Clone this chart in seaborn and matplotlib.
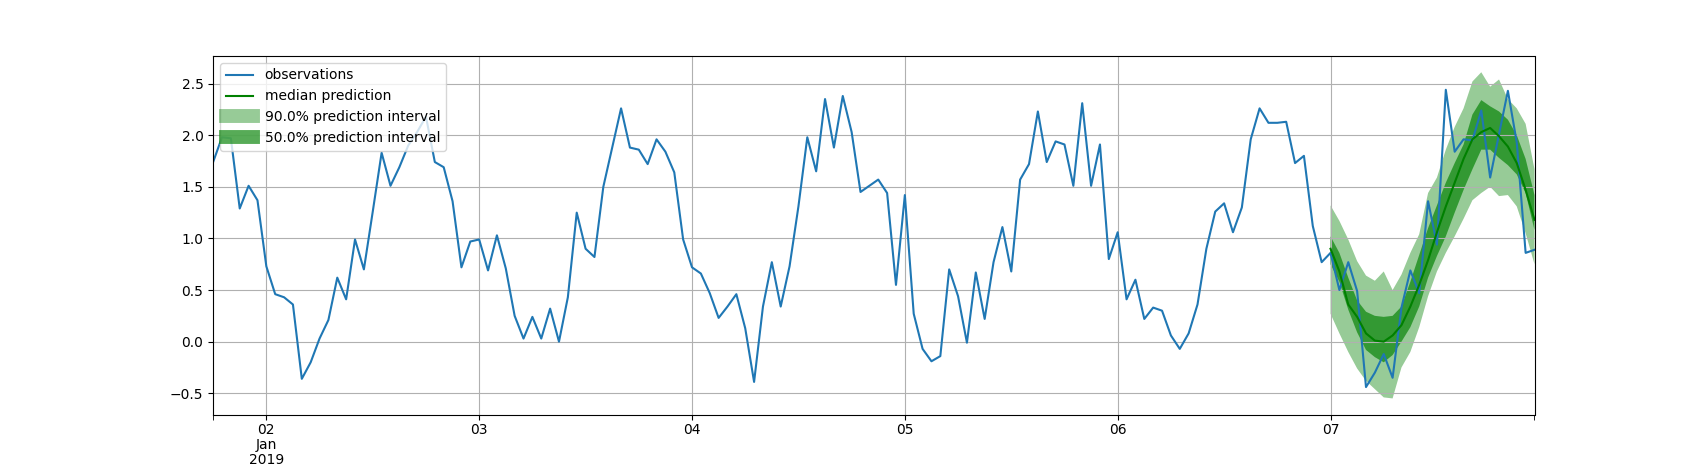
import pandas as pd
import seaborn as sns
import matplotlib
matplotlib.use("Agg")
import matplotlib.pyplot as plt
from matplotlib.lines import Line2D

# hourly observations, 2019-01-01 18:00 -> 2019-01-07 23:00
observations = [
    1.74, 1.98, 1.97, 1.29, 1.51, 1.37, 0.73, 0.46, 0.43, 0.36,
    -0.36, -0.20, 0.03, 0.21, 0.62, 0.41, 0.99, 0.70, 1.26, 1.83,
    1.51, 1.69, 1.90, 2.03, 2.18, 1.74, 1.69, 1.36, 0.72, 0.97,
    0.99, 0.69, 1.03, 0.71, 0.25, 0.03, 0.24, 0.03, 0.32, 0.00,
    0.43, 1.25, 0.90, 0.82, 1.50, 1.88, 2.26, 1.88, 1.86, 1.72,
    1.96, 1.84, 1.64, 0.99, 0.72, 0.66, 0.47, 0.23, 0.34, 0.46,
    0.13, -0.39, 0.34, 0.77, 0.34, 0.73, 1.31, 1.98, 1.65, 2.35,
    1.88, 2.38, 2.03, 1.45, 1.51, 1.57, 1.44, 0.55, 1.42, 0.27,
    -0.07, -0.19, -0.14, 0.70, 0.44, -0.01, 0.67, 0.22, 0.77, 1.11,
    0.68, 1.57, 1.72, 2.23, 1.74, 1.94, 1.91, 1.51, 2.31, 1.51,
    1.91, 0.80, 1.06, 0.41, 0.60, 0.22, 0.33, 0.30, 0.06, -0.07,
    0.08, 0.36, 0.90, 1.26, 1.34, 1.06, 1.30, 1.96, 2.26, 2.12,
    2.12, 2.13, 1.73, 1.80, 1.12, 0.77, 0.86, 0.50, 0.77, 0.49,
    -0.44, -0.30, -0.12, -0.35, 0.33, 0.69, 0.47, 1.36, 0.94, 2.44,
    1.84, 1.96, 1.95, 2.24, 1.59, 2.01, 2.43, 1.93, 0.86, 0.89,
]

# forecast quantiles for 2019-01-07 00:00 -> 23:00
median = [0.90, 0.68, 0.36, 0.24, 0.08, 0.01, 0.00, 0.06, 0.16, 0.34, 0.55, 0.79,
          1.06, 1.31, 1.54, 1.77, 1.96, 2.03, 2.07, 1.99, 1.89, 1.73, 1.47, 1.18]
p95 = [1.32, 1.17, 0.99, 0.78, 0.64, 0.59, 0.68, 0.50, 0.65, 0.86, 1.04, 1.44,
       1.59, 1.86, 2.08, 2.26, 2.52, 2.61, 2.47, 2.54, 2.35, 2.26, 2.11, 1.67]
p5 = [0.27, 0.08, -0.10, -0.26, -0.38, -0.46, -0.54, -0.55, -0.25, -0.10, 0.14, 0.44,
      0.68, 0.86, 1.02, 1.19, 1.37, 1.44, 1.50, 1.41, 1.42, 1.31, 1.05, 0.75]
p75 = [1.02, 0.86, 0.62, 0.40, 0.29, 0.25, 0.24, 0.25, 0.34, 0.58, 0.84, 1.10,
       1.32, 1.54, 1.73, 1.91, 2.20, 2.34, 2.28, 2.23, 2.15, 2.00, 1.77, 1.42]
p25 = [0.75, 0.58, 0.31, 0.09, -0.08, -0.15, -0.20, -0.13, 0.00, 0.14, 0.34, 0.62,
       0.83, 1.02, 1.25, 1.47, 1.67, 1.86, 1.86, 1.78, 1.71, 1.62, 1.44, 1.08]

day_ticks = ["2019-01-02", "2019-01-03", "2019-01-04", "2019-01-05", "2019-01-06", "2019-01-07"]
day_labels = ["02\nJan\n2019", "03", "04", "05", "06", "07"]
legend_labels = ["observations", "median prediction",
                 "90.0% prediction interval", "50.0% prediction interval"]

obs_index = pd.date_range("2019-01-01 18:00", periods=len(observations), freq="h")
fc_index = pd.date_range("2019-01-07 00:00", periods=len(median), freq="h")

fig, ax = plt.subplots(figsize=(17.05, 4.66), dpi=100)

sns.lineplot(x=obs_index, y=observations, ax=ax, color="C0", linewidth=1.5)
sns.lineplot(x=fc_index, y=median, ax=ax, color="g", linewidth=1.5)

# alpha as in gluonts: (p/100) ** 0.3
a90 = 0.05 ** 0.3
a50 = 0.25 ** 0.3
ax.fill_between(fc_index, p5, p95, facecolor="g", alpha=a90, interpolate=True)
ax.fill_between(fc_index, p25, p75, facecolor="g", alpha=a50, interpolate=True)

ax.set_xlim(obs_index[0], obs_index[-1])
ax.set_xticks(pd.to_datetime(day_ticks))
ax.set_xticklabels(day_labels, linespacing=1.08)
ax.set_xticks([obs_index[0], obs_index[-1]], minor=True)
ax.tick_params(axis="x", which="minor", length=3.5)
ax.tick_params(axis="x", which="major", pad=2.8)
ax.set_xlabel("")
ax.set_ylabel("")
ax.grid(True)

handles = [
    Line2D([], [], color="C0", linewidth=1.5),
    Line2D([], [], color="g", linewidth=1.5),
    Line2D([], [], color="g", alpha=a90, linewidth=10),
    Line2D([], [], color="g", alpha=a50, linewidth=10),
]
ax.legend(handles, legend_labels, loc="upper left")

plt.savefig("out.png", dpi=100)
